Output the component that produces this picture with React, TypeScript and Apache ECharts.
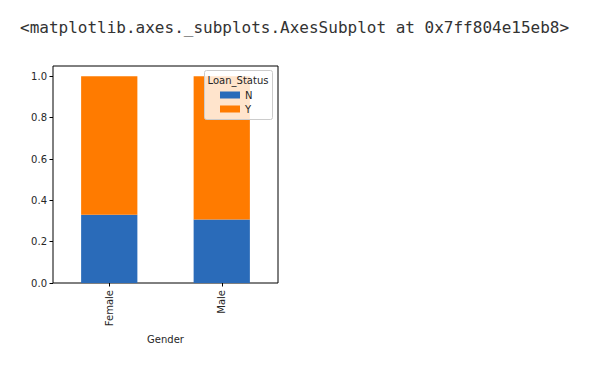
import React, { useEffect, useRef } from "react";
import * as echarts from "echarts";

const categories = ["Female", "Male"];
const seriesNames = ["N", "Y"];
const valuesN = [0.3304, 0.3067];
const valuesY = [0.6696, 0.6933];
const yTicks = [0, 0.2, 0.4, 0.6, 0.8, 1.0];
const header = "<matplotlib.axes._subplots.AxesSubplot at 0x7ff804e15eb8>";

const BLUE = "#2a6bb9";
const ORANGE = "#ff7b00";

export default function App() {
  const ref = useRef<HTMLDivElement>(null);
  useEffect(() => {
    if (!ref.current) return;
    const chart = echarts.init(ref.current, undefined, { renderer: "svg" });
    chart.setOption({
      animation: false,
      backgroundColor: "#ffffff",
      textStyle: { fontFamily: "DejaVu Sans" },
      grid: {
        left: 53,
        top: 66,
        right: 336,
        bottom: 87,
        show: true,
        borderColor: "#000",
        borderWidth: 1,
        backgroundColor: "transparent",
        containLabel: false,
      },
      xAxis: {
        type: "category",
        data: categories,
        name: "Gender",
        nameLocation: "middle",
        nameGap: 40,
        nameTextStyle: { fontSize: 10, color: "#262626", fontFamily: "DejaVu Sans" },
        axisLine: { show: false },
        axisTick: { show: true, alignWithLabel: true, length: 3.5, lineStyle: { color: "#000" } },
        axisLabel: { rotate: 90, fontSize: 10, color: "#262626", margin: 7, fontFamily: "DejaVu Sans" },
        splitLine: { show: false },
      },
      yAxis: {
        type: "value",
        min: 0,
        max: 1.05,
        interval: 0.2,
        axisLine: { show: false },
        axisTick: { show: true, length: 3.5, lineStyle: { color: "#000" } },
        axisLabel: {
          fontSize: 10,
          color: "#262626",
          margin: 6,
          showMaxLabel: false,
          fontFamily: "DejaVu Sans",
          formatter: (v: number) => (yTicks.some((t) => Math.abs(t - v) < 1e-6) ? v.toFixed(1) : ""),
        },
        splitLine: { show: false },
      },
      legend: {
        orient: "vertical",
        left: 220,
        top: 89,
        z: 5,
        data: seriesNames,
        itemWidth: 20,
        itemHeight: 7,
        itemGap: 2,
        icon: "rect",
        padding: 0,
        textStyle: { fontSize: 10, color: "#262626", fontFamily: "DejaVu Sans", lineHeight: 12 },
      },
      graphic: [
        {
          type: "text",
          left: 20,
          top: 19,
          style: {
            text: header,
            font: '16px "DejaVu Sans Mono"',
            fill: "#333333",
          },
        },
        {
          type: "rect",
          z: 3,
          shape: { x: 204.5, y: 70.5, width: 68, height: 49, r: 2 },
          style: { fill: "rgba(255,255,255,0.8)", stroke: "#cccccc", lineWidth: 1 },
        },
        {
          type: "text",
          z: 4,
          x: 238,
          y: 80,
          style: {
            text: "Loan_Status",
            font: '10px "DejaVu Sans"',
            fill: "#262626",
            align: "center",
            verticalAlign: "middle",
          },
        },
      ],
      series: [
        {
          name: "N",
          type: "bar",
          stack: "total",
          data: valuesN,
          barWidth: "50%",
          itemStyle: { color: BLUE },
        },
        {
          name: "Y",
          type: "bar",
          stack: "total",
          data: valuesY,
          barWidth: "50%",
          itemStyle: { color: ORANGE },
        },
      ],
    });
    return () => chart.dispose();
  }, []);
  return (
    <div
      ref={ref}
      style={{ position: "fixed", left: 0, top: 0, width: 614, height: 370 }}
    />
  );
}
